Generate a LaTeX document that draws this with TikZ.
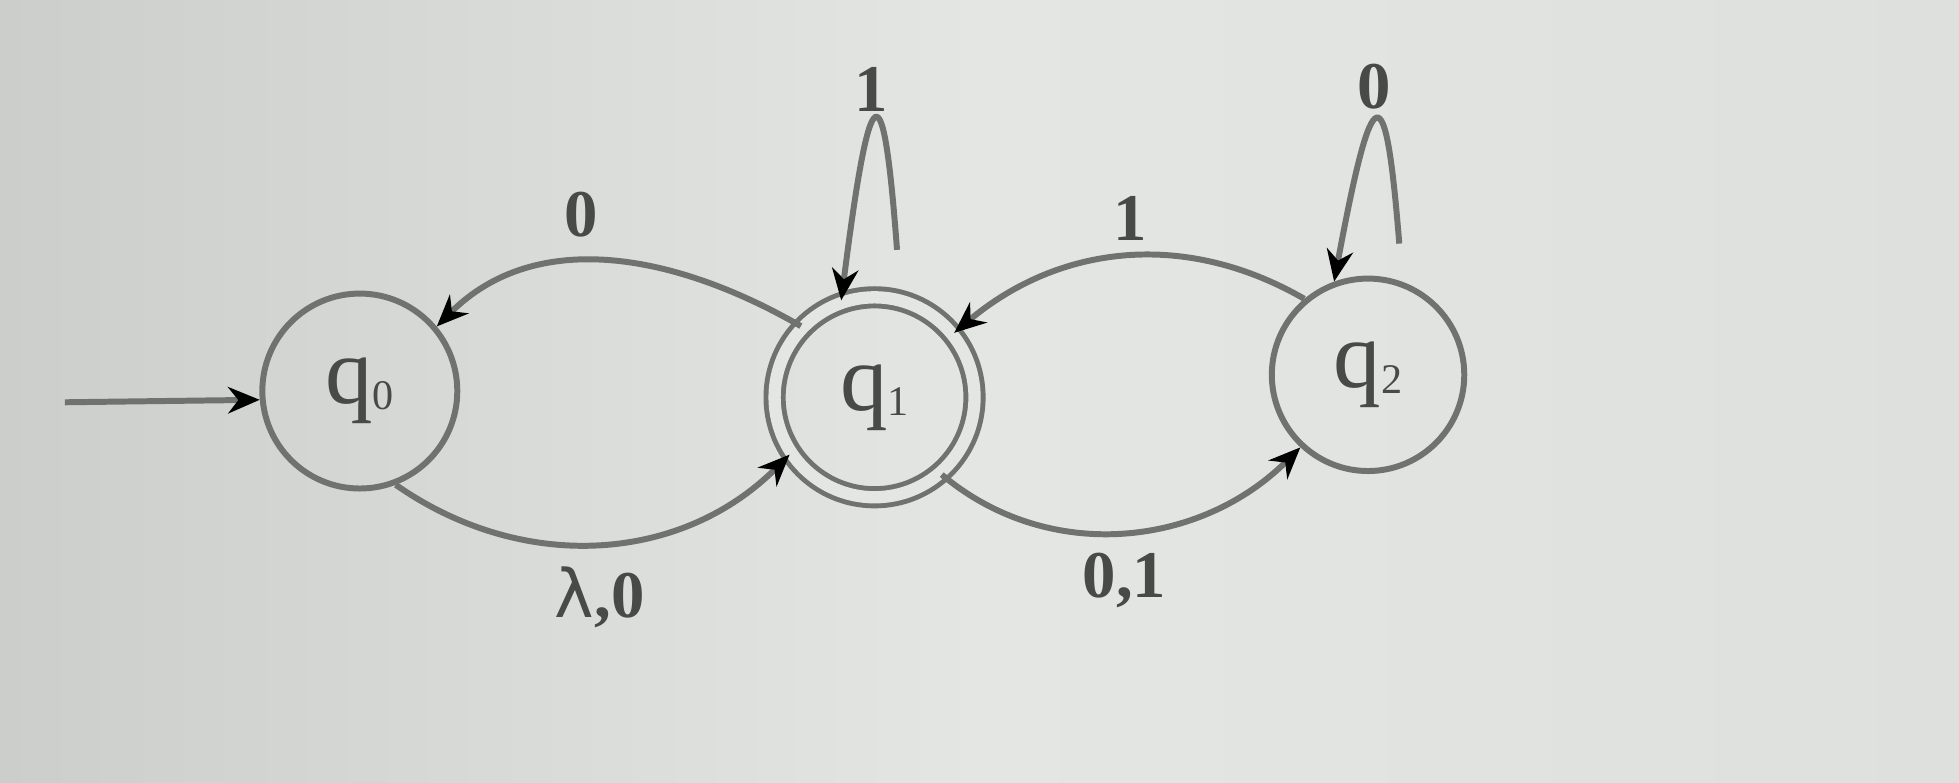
\documentclass[tikz,border=0pt]{standalone}
\usepackage{fontspec}
\setmainfont{Liberation Serif}
\newfontfamily\grkfont{DejaVu Sans}
\usetikzlibrary{arrows.meta}
\definecolor{edgegray}{RGB}{112,114,112}
\definecolor{txtgray}{RGB}{72,74,72}
\definecolor{bgleft}{RGB}{203,206,203}
\definecolor{bgmid}{RGB}{228,230,228}
\definecolor{bgright}{RGB}{222,224,222}
\newcommand{\qsub}[1]{q\raisebox{-0.06em}{\fontsize{12}{12}\selectfont #1}}
\begin{document}
\begin{tikzpicture}[x=0.0125cm,y=0.0125cm,
  state/.style={circle,draw=edgegray,line width=1.7pt,inner sep=0pt,
    font=\fontsize{27}{30}\selectfont,text=txtgray},
  acc/.style={state,double=bgmid,double distance=3.5pt,line width=1.4pt},
  trans/.style={draw=edgegray,line width=1.7pt,-{Stealth[length=9pt,width=7.5pt,color=black]}},
  lab/.style={font=\fontsize{19}{22}\selectfont\bfseries,text=txtgray,inner sep=1pt}]
\useasboundingbox (0,0) rectangle (1568,626);
\shade[left color=bgleft,right color=bgright,middle color=bgmid] (0,0) rectangle (1568,626);
% states
\node[state,minimum size=1.95cm] (q0) at (288,313) {\qsub{0}};
\node[acc,minimum size=2.0cm] (q1) at (700,308) {\qsub{1}};
\node[state,minimum size=1.925cm] (q2) at (1095,326) {\qsub{2}};
% initial arrow
\coordinate (init) at (52,304);
\draw[trans] (init) -- (q0.185);
% q1 -> q0
\draw[trans] (q1.136) to[out=150,in=45] (q0.40);
\node[lab] (l10) at (465,454) {0};
% q0 -> q1
\draw[trans] (q0.-69) to[out=-35,in=-135] (q1.-146);
\node[lab] (l01) at (480,148) {{\grkfont\mdseries λ},0};
% q2 -> q1
\draw[trans] (q2.130) to[out=150,in=40] (q1.39);
\node[lab] (l21) at (905,451) {1};
% q1 -> q2
\draw[trans] (q1.-49) to[out=-40,in=-135] (q2.-133);
\node[lab] (l12) at (900,161) {0,1};
% self loops
\coordinate (s1) at (718,426);
\draw[trans] (s1) .. controls (707,572) and (697,572) .. (q1.109);
\node[lab] (l11) at (697,554) {1};
\coordinate (s2) at (1120,431);
\draw[trans] (s2) .. controls (1109,568) and (1099,568) .. (q2.110);
\node[lab] (l22) at (1100,557) {0};
\end{tikzpicture}
\end{document}
